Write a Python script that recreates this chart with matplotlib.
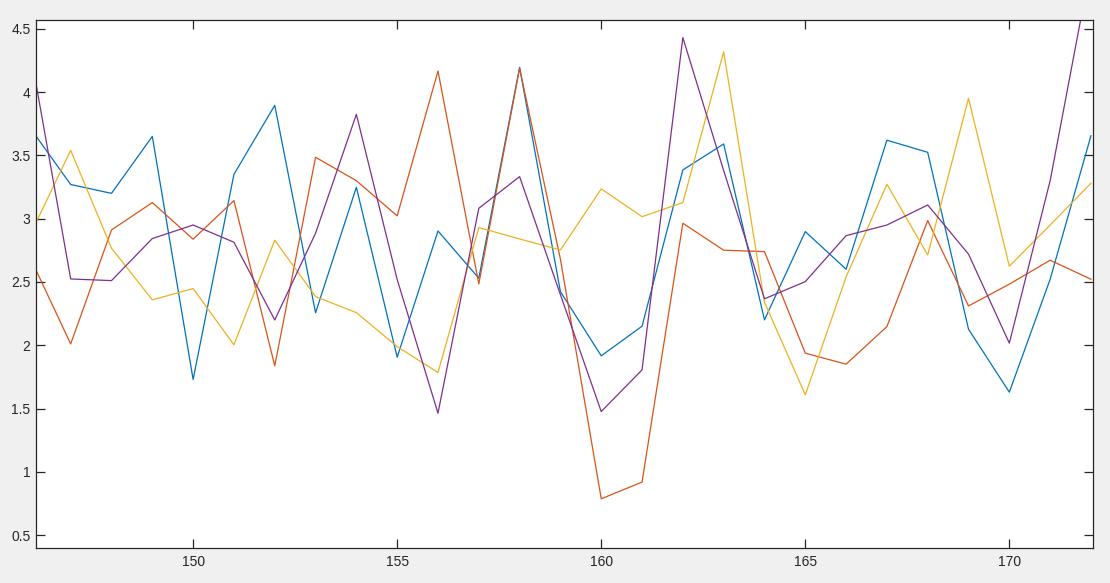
import matplotlib.pyplot as plt
from matplotlib.ticker import FormatStrFormatter
import numpy as np

x = np.arange(146, 173)

blue = [3.72, 3.27, 3.20, 3.65, 1.73, 3.35, 3.895, 2.257, 3.248, 1.906,
        2.903, 2.53, 4.195, 2.424, 1.917, 2.151, 3.385, 3.59, 2.201, 2.898,
        2.601, 3.62, 3.524, 2.127, 1.63, 2.522, 3.655]
red = [2.697, 2.011, 2.911, 3.127, 2.838, 3.143, 1.838, 3.485, 3.30, 3.022,
       4.166, 2.485, 4.187, 2.68, 0.788, 0.92, 2.964, 2.751, 2.74, 1.938,
       1.851, 2.148, 2.985, 2.311, 2.483, 2.672, 2.522]
yellow = [2.868, 3.54, 2.767, 2.359, 2.448, 2.004, 2.83, 2.385, 2.258, 1.99,
          1.785, 2.93, 2.84, 2.753, 3.235, 3.016, 3.127, 4.318, 2.34, 1.609,
          2.54, 3.272, 2.714, 3.95, 2.625, 2.95, 3.28]
purple = [4.34, 2.524, 2.511, 2.843, 2.95, 2.814, 2.20, 2.885, 3.824, 2.52,
          1.464, 3.082, 3.332, 2.40, 1.477, 1.806, 4.43, 3.38, 2.367, 2.503,
          2.866, 2.95, 3.108, 2.72, 2.017, 3.30, 5.0]

plt.rcParams['font.family'] = ['Liberation Sans', 'DejaVu Sans']

fig = plt.figure(figsize=(11.1, 5.83), dpi=100, facecolor="#f0f0f0")
ax = fig.add_axes([36/1110, 1 - 548.3/583, (1093 - 36)/1110, (548.3 - 20)/583])
ax.set_facecolor("white")

ax.plot(x, blue, color="#0072BD", lw=0.9)
ax.plot(x, red, color="#D95319", lw=0.9)
ax.plot(x, yellow, color="#EDB120", lw=0.9)
ax.plot(x, purple, color="#7E2F8E", lw=0.9)

ax.set_xlim(146.15, 172.05)
ax.set_ylim(0.397, 4.569)
ax.set_xticks(np.arange(150, 171, 5))
ax.set_yticks(np.arange(0.5, 4.6, 0.5))
ax.yaxis.set_major_formatter(FormatStrFormatter("%g"))

for s in ax.spines.values():
    s.set_color("#262626")
    s.set_linewidth(0.9)
ax.tick_params(direction="in", length=6.5, width=0.9, color="#262626",
               labelcolor="#262626", labelsize=10, top=True, right=True)
ax.tick_params(axis="x", pad=5)
ax.tick_params(axis="y", pad=4)

fig.savefig("out.png", dpi=100, facecolor=fig.get_facecolor())
